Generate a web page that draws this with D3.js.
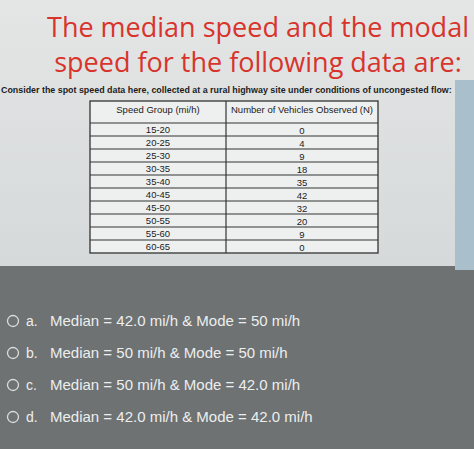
<!DOCTYPE html><html><head><meta charset="utf-8"><script src="https://cdn.jsdelivr.net/npm/d3@7"></script>
<style>body{margin:0}</style></head><body><script>
const speedGroups=["15-20","20-25","25-30","30-35","35-40","40-45","45-50","50-55","55-60","60-65"];
const vehicles=[0,4,9,18,35,42,32,20,9,0];
const headers=["Speed Group (mi/h)","Number of Vehicles Observed (N)"];
const titleLines=["The median speed and the modal","speed for the following data are:"];
const options=[["a.","Median = 42.0 mi/h & Mode = 50 mi/h"],["b.","Median = 50 mi/h & Mode = 50 mi/h"],["c.","Median = 50 mi/h & Mode = 42.0 mi/h"],["d.","Median = 42.0 mi/h & Mode = 42.0 mi/h"]];
const svg=d3.select("body").append("svg").attr("width",474).attr("height",449);
const g=svg.append("defs").append("linearGradient").attr("id","bg").attr("x1",0).attr("y1",0).attr("x2",0).attr("y2",1);
g.append("stop").attr("offset",0).attr("stop-color","#e4e6e6");
g.append("stop").attr("offset",1).attr("stop-color","#d6d9d9");
svg.append("rect").attr("width",474).attr("height",270).attr("fill","url(#bg)");
svg.append("rect").attr("y",266).attr("width",474).attr("height",183).attr("fill","#6e7273");
svg.append("rect").attr("x",455).attr("y",80).attr("width",19).attr("height",190).attr("fill","#a9bfcc");
svg.selectAll(".t").data(titleLines).join("text").attr("x",258).attr("y",(d,i)=>37+i*35).attr("text-anchor","middle")
 .attr("font-family","Open Sans").attr("font-size",27).attr("fill","#d8342c").text(d=>d);
svg.append("text").attr("x",1).attr("y",93).attr("font-family","Liberation Sans").attr("font-weight","bold").attr("font-size",8.9).attr("fill","#1c1c1c").text("Consider the spot speed data here, collected at a rural highway site under conditions of uncongested flow:");
const x0=90,xm=226,x1=378,yh=101;
const y=d3.scaleBand().domain(speedGroups).range([123,253]);
svg.append("rect").attr("x",x0).attr("y",yh).attr("width",x1-x0).attr("height",253-yh).attr("fill","#eef0f0").attr("stroke","#333").attr("stroke-width",1.3);
svg.append("line").attr("x1",xm).attr("x2",xm).attr("y1",yh).attr("y2",253).attr("stroke","#333").attr("stroke-width",1.2);
svg.selectAll(".rl").data(speedGroups).join("line").attr("x1",x0).attr("x2",x1).attr("y1",d=>y(d)).attr("y2",d=>y(d)).attr("stroke","#333").attr("stroke-width",1.2);
svg.selectAll(".h").data(headers).join("text").attr("x",(d,i)=>i?(xm+x1)/2:(x0+xm)/2).attr("y",yh+12).attr("text-anchor","middle")
 .attr("font-family","Liberation Sans").attr("font-size",9.5).attr("fill","#222").text(d=>d);
svg.selectAll(".c1").data(speedGroups).join("text").attr("x",(x0+xm)/2).attr("y",d=>y(d)+y.bandwidth()-3).attr("text-anchor","middle")
 .attr("font-family","Liberation Sans").attr("font-size",9.5).attr("fill","#222").text(d=>d);
svg.selectAll(".c2").data(vehicles).join("text").attr("x",(xm+x1)/2).attr("y",(d,i)=>y(speedGroups[i])+y.bandwidth()-2).attr("text-anchor","middle")
 .attr("font-family","Liberation Sans").attr("font-size",9.5).attr("fill","#222").text(d=>d);
const og=svg.selectAll(".o").data(options).join("g").attr("transform",(d,i)=>`translate(0,${326+i*32})`);
og.append("circle").attr("cx",13).attr("cy",-5).attr("r",5.5).attr("fill","none").attr("stroke","#d8dcdc").attr("stroke-width",1.3);
og.append("text").attr("x",26).attr("font-family","Liberation Sans").attr("font-size",14).attr("fill","#eceeee").text(d=>d[0]);
og.append("text").attr("x",50).attr("font-family","Liberation Sans").attr("font-size",15).attr("fill","#eceeee").text(d=>d[1]);
</script></body></html>
